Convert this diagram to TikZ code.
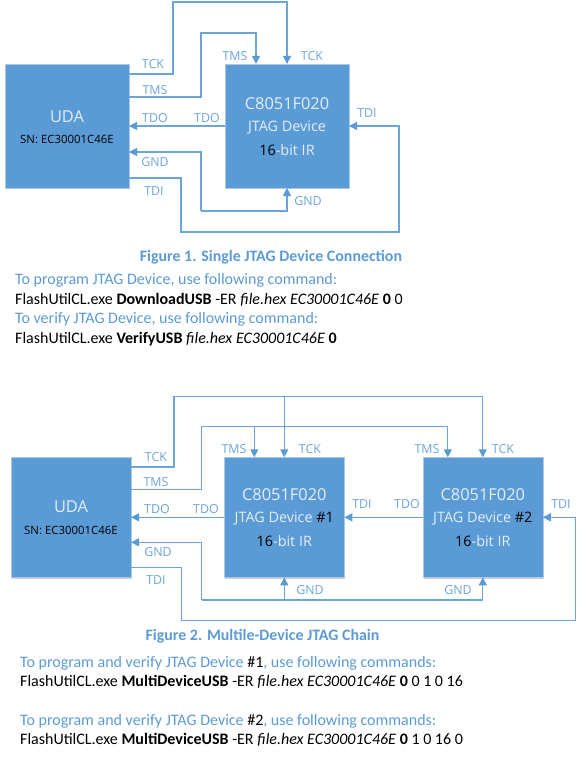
\documentclass[tikz,border=0pt]{standalone}
\usepackage{fontspec}
\setmainfont{Carlito}
\newfontfamily\boxfont{Open Sans}
\usetikzlibrary{arrows.meta,calc,shadows}
\definecolor{bluebox}{HTML}{5B9BD5}
\definecolor{bluewire}{HTML}{6BA5DA}
\definecolor{boxedge}{HTML}{A9C9E6}
\definecolor{boxtext}{HTML}{E3EEF8}
\tikzset{
  x=1pt,y=-1pt,
  chip/.style={fill=bluebox,draw=boxedge,line width=.6pt,inner sep=0pt,outer sep=0pt,
    copy shadow={shadow xshift=1pt,shadow yshift=-1.2pt,draw=none,fill=black!18}},
  chipa/.style={chip,minimum width=124pt,minimum height=124pt},
  chipb/.style={chip,minimum width=120pt,minimum height=120pt},
  wire/.style={draw=bluewire,line width=1.1pt},
  arrowed/.style={wire,-{Triangle[length=8pt,width=8pt,color=bluebox]}},
  sig/.style={font=\boxfont\fontsize{12.4}{14}\selectfont,text=bluebox!90,inner sep=0pt},
  title/.style={font=\boxfont\fontsize{16.4}{19}\selectfont,text=boxtext,inner sep=0pt},
  sub/.style={font=\boxfont\fontsize{14.4}{16}\selectfont,text=boxtext,inner sep=0pt},
  serial/.style={font=\boxfont\fontsize{11.4}{13}\selectfont,text=black,inner sep=0pt},
  caption/.style={font=\fontsize{15.9}{18}\selectfont\bfseries,text=bluebox,inner sep=0pt,anchor=base},
  note/.style={font=\fontsize{16}{18}\selectfont,text=bluebox,inner sep=0pt,anchor=base west},
  cmd/.style={font=\fontsize{16}{18}\selectfont,text=black,inner sep=0pt,anchor=base west},
}
\begin{document}
\begin{tikzpicture}
\useasboundingbox (0,0) rectangle (580,757);
% ---------- Figure 1 ----------
\node[chipa] (u1) at (67,126) {};
\node[chipa] (d1) at (287,126) {};
\node[title] (u1t) at (67,116.5) {UDA};
\node[serial] (u1s) at (67,139.5) {SN: EC30001C46E};
\node[title] (d1t) at (287,104) {C8051F020};
\node[sub] (d1j) at (287,128) {JTAG Device};
\node[sub] (d1b) at (287,150) {\textcolor{black}{16}-bit IR};
\coordinate (a1) at (173,2);
\coordinate (a2) at (201,33);
\coordinate (a3) at (181,232);
\coordinate (a4) at (399,232);
\coordinate (a5) at (201,211);
\draw[arrowed] ($(u1.north east)+(0,10)$) -| (a1) -| (d1.north);
\draw[arrowed] ($(u1.north east)+(0,33)$) -| (a2) -| ($(d1.north)+(-31,0)$);
\draw[arrowed] (d1.west) -- (u1.east);
\draw[arrowed] (a5) -| (d1.south);
\draw[arrowed] (a5) |- ($(u1.north east)+(0,88)$);
\draw[arrowed] ($(u1.south east)+(0,-10)$) -| (a3) -- (a4) |- (d1.east);
\node[sig] (l1) at (153,64.5) {TCK};
\node[sig] (l2) at (155,90.5) {TMS};
\node[sig] (l3) at (155,118.5) {TDO};
\node[sig] (l4) at (207,118.5) {TDO};
\node[sig] (l5) at (155,162.5) {GND};
\node[sig] (l6) at (154,191.5) {TDI};
\node[sig] (l7) at (235,56.5) {TMS};
\node[sig] (l8) at (312,56.5) {TCK};
\node[sig] (l9) at (367,113.5) {TDI};
\node[sig] (l10) at (308,201.5) {GND};
\node[caption] (c1) at (271,261) {Figure 1. Single JTAG Device Connection};
\node[note] (n1) at (15,284) {To program JTAG Device, use following command:};
\node[cmd] (n2) at (15,304) {FlashUtilCL.exe \textbf{DownloadUSB} -ER \textit{file.hex EC30001C46E} \textbf{0} 0};
\node[note] (n3) at (15,323) {To verify JTAG Device, use following command:};
\node[cmd] (n4) at (15,343) {FlashUtilCL.exe \textbf{VerifyUSB} \textit{file.hex EC30001C46E} \textbf{0}};
% ---------- Figure 2 ----------
\node[chipb] (u2) at (71,517.3) {};
\node[chipb] (e1) at (284.3,517.3) {};
\node[chipb] (e2) at (482.8,517.3) {};
\node[title] (u2t) at (71,507) {UDA};
\node[serial] (u2s) at (71,530.5) {SN: EC30001C46E};
\node[title] (e1t) at (284.3,495) {C8051F020};
\node[sub] (e1j) at (284.3,519) {JTAG Device \textcolor{black}{\#1}};
\node[sub] (e1b) at (284.3,541) {\textcolor{black}{16}-bit IR};
\node[title] (e2t) at (482.8,495) {C8051F020};
\node[sub] (e2j) at (482.8,519) {JTAG Device \textcolor{black}{\#2}};
\node[sub] (e2b) at (482.8,541) {\textcolor{black}{16}-bit IR};
\coordinate (b1) at (174,396.7);
\coordinate (b2) at (201.7,426.7);
\coordinate (b3) at (181.7,620.3);
\coordinate (b4) at (575.7,620.3);
\coordinate (b5) at (201.7,600);
\coordinate (p5) at ($(e1.north)+(-30,0)$);
\draw[arrowed] ($(u2.north east)+(0,9.7)$) -| (b1) -| (e2.north);
\draw[arrowed] (b1 -| e1.north) -- (e1.north);
\draw[arrowed] ($(u2.north east)+(0,32.3)$) -| (b2) -| ($(e2.north)+(-35,0)$);
\draw[arrowed] (b2 -| p5) -- (p5);
\draw[arrowed] (e1.west) -- (u2.east);
\draw[arrowed] (e2.west) -- (e1.east);
\draw[arrowed] (b5) -| (e2.south);
\draw[arrowed] (b5 -| e1.south) -- (e1.south);
\draw[arrowed] (b5) |- ($(u2.north east)+(0,85)$);
\draw[arrowed] ($(u2.south east)+(0,-10)$) -| (b3) -- (b4) |- (e2.east);
\node[sig] (m1) at (156,457.5) {TCK};
\node[sig] (m2) at (156,482.5) {TMS};
\node[sig] (m3) at (157,509.5) {TDO};
\node[sig] (m4) at (206,509.5) {TDO};
\node[sig] (m5) at (158,552.5) {GND};
\node[sig] (m6) at (156,580.5) {TDI};
\node[sig] (m7) at (234,449.5) {TMS};
\node[sig] (m8) at (310,449.5) {TCK};
\node[sig] (m9) at (362,504.5) {TDI};
\node[sig] (m10) at (407,504.5) {TDO};
\node[sig] (m11) at (427,449.5) {TMS};
\node[sig] (m12) at (503,449.5) {TCK};
\node[sig] (m13) at (561,504.5) {TDI};
\node[sig] (m14) at (310,590.5) {GND};
\node[sig] (m15) at (458,590.5) {GND};
\node[caption] (c2) at (262.5,640) {Figure 2. Multile-Device JTAG Chain};
\node[note] (p1) at (20,667) {To program and verify JTAG Device \textcolor{black}{\#1}, use following commands:};
\node[cmd] (p2) at (20,686) {FlashUtilCL.exe \textbf{MultiDeviceUSB} -ER \textit{file.hex EC30001C46E} \textbf{0} 0 1 0 16};
\node[note] (p3) at (20,725) {To program and verify JTAG Device \textcolor{black}{\#2}, use following commands:};
\node[cmd] (p4) at (20,744) {FlashUtilCL.exe \textbf{MultiDeviceUSB} -ER \textit{file.hex EC30001C46E} \textbf{0} 1 0 16 0};
\end{tikzpicture}
\end{document}
